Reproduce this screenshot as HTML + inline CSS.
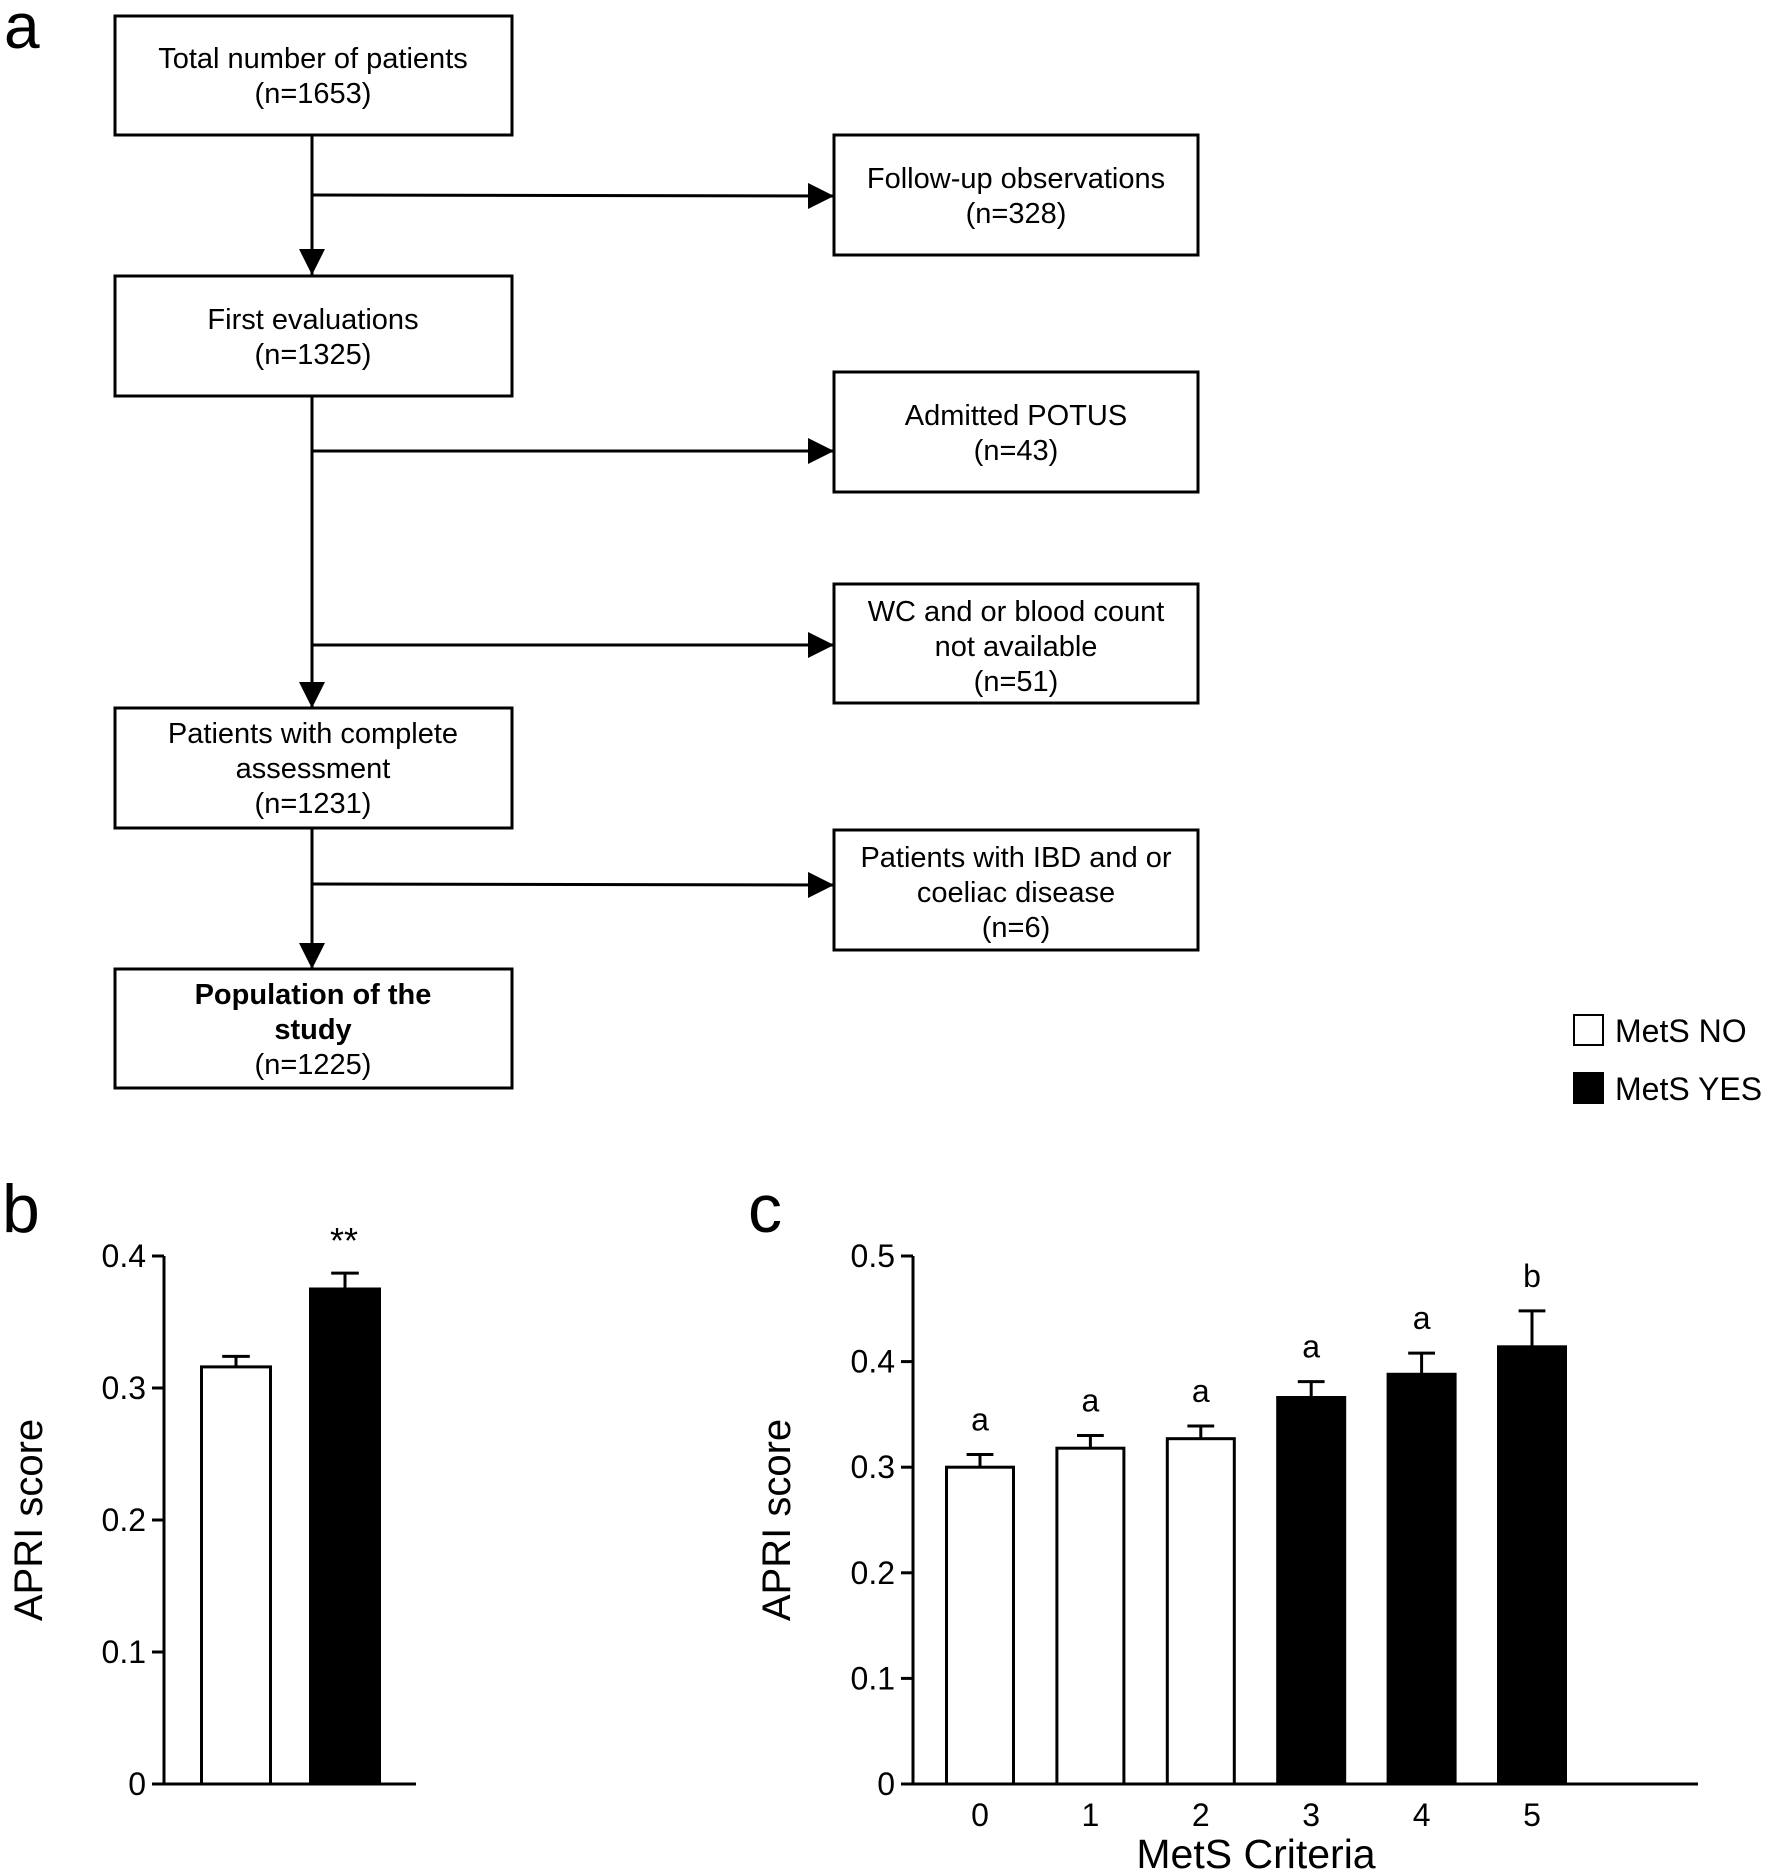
<!DOCTYPE html>
<html><head><meta charset="utf-8"><style>
html,body{margin:0;padding:0;background:#fff}
svg{display:block;font-family:"Liberation Sans",Arial,sans-serif}
</style></head><body>
<svg id="fig" width="1770" height="1872" viewBox="0 0 1770 1872" xmlns="http://www.w3.org/2000/svg">
<defs>
<marker id="ahb" markerWidth="26" markerHeight="26" refX="26" refY="13" orient="auto" markerUnits="userSpaceOnUse" viewBox="0 0 26 26"><path d="M0,0 L26,13 L0,26 z" fill="#000"/></marker></defs>
<text x="4" y="48" font-size="64">a</text>
<g id="flow" stroke="#000" stroke-width="3" fill="none">
<line x1="312" y1="135" x2="312" y2="275" marker-end="url(#ahb)"/>
<line x1="312" y1="195" x2="834" y2="196" marker-end="url(#ahb)"/>
<line x1="312" y1="396" x2="312" y2="708" marker-end="url(#ahb)"/>
<line x1="312" y1="451" x2="834" y2="451" marker-end="url(#ahb)"/>
<line x1="312" y1="645" x2="834" y2="645" marker-end="url(#ahb)"/>
<line x1="312" y1="828" x2="312" y2="969" marker-end="url(#ahb)"/>
<line x1="312" y1="884" x2="834" y2="885" marker-end="url(#ahb)"/>
<rect x="115" y="16" width="397" height="119"/>
<rect x="834" y="135" width="364" height="120"/>
<rect x="115" y="276" width="397" height="120"/>
<rect x="834" y="372" width="364" height="120"/>
<rect x="834" y="584" width="364" height="119"/>
<rect x="115" y="708" width="397" height="120"/>
<rect x="834" y="830" width="364" height="120"/>
<rect x="115" y="969" width="397" height="119"/>
</g>
<g font-size="29" text-anchor="middle" fill="#000">
<text x="313" y="68">Total number of patients</text><text x="313" y="103">(n=1653)</text>
<text x="1016" y="188">Follow-up observations</text><text x="1016" y="223">(n=328)</text>
<text x="313" y="329">First evaluations</text><text x="313" y="364">(n=1325)</text>
<text x="1016" y="425">Admitted POTUS</text><text x="1016" y="460">(n=43)</text>
<text x="1016" y="621">WC and or blood count</text><text x="1016" y="656">not available</text><text x="1016" y="691">(n=51)</text>
<text x="313" y="743">Patients with complete</text><text x="313" y="778">assessment</text><text x="313" y="813">(n=1231)</text>
<text x="1016" y="867">Patients with IBD and or</text><text x="1016" y="902">coeliac disease</text><text x="1016" y="937">(n=6)</text>
<text x="313" y="1004" font-weight="bold">Population of the</text><text x="313" y="1039" font-weight="bold">study</text><text x="313" y="1074">(n=1225)</text>
</g>
<g>
<rect x="1574" y="1015" width="29" height="30" fill="#fff" stroke="#000" stroke-width="2"/>
<text x="1615" y="1042" font-size="32">MetS NO</text>
<rect x="1574" y="1073" width="29" height="30" fill="#000" stroke="#000" stroke-width="2"/>
<text x="1615" y="1100" font-size="32">MetS YES</text>
</g>
<text x="2" y="1232" font-size="68">b</text>
<text x="748" y="1232" font-size="68">c</text>
<g id="chartB"></g>
<g id="chartC"></g>
</svg>
<script>
const bCategories = ["MetS NO", "MetS YES"];
const bValues = [0.316, 0.375];
const bErrTop = [0.324, 0.387];
const bFills = ["#fff", "#000"];
const bTicks = [0, 0.1, 0.2, 0.3, 0.4];
const bTickLabels = ["0", "0.1", "0.2", "0.3", "0.4"];
const cCategories = ["0", "1", "2", "3", "4", "5"];
const cValues = [0.300, 0.318, 0.327, 0.366, 0.388, 0.414];
const cErrTop = [0.312, 0.330, 0.339, 0.381, 0.408, 0.448];
const cLetters = ["a", "a", "a", "a", "a", "b"];
const cTicks = [0, 0.1, 0.2, 0.3, 0.4, 0.5];
const cTickLabels = ["0", "0.1", "0.2", "0.3", "0.4", "0.5"];
const NS = "http://www.w3.org/2000/svg";
function mk(p, tag, attrs, txt){const e=document.createElementNS(NS,tag);for(const k in attrs)e.setAttribute(k,attrs[k]);if(txt!==undefined)e.textContent=txt;p.appendChild(e);return e;}
function drawChart(g, cfg){
  const y = v => cfg.y0 - (v - 0)/(cfg.ymax) * (cfg.y0 - cfg.ytop);
  const ax = mk(g,'line',{x1:cfg.ax,y1:cfg.ytop,x2:cfg.ax,y2:cfg.y0,stroke:'#000','stroke-width':3});
  
  
  const xx = mk(g,'line',{x1:cfg.ax-12,y1:cfg.y0,x2:cfg.xend,y2:cfg.y0,stroke:'#000','stroke-width':3});
  
  
  cfg.ticks.forEach((t,i)=>{
    const l = mk(g,'line',{x1:cfg.ax-12,y1:y(t),x2:cfg.ax,y2:y(t),stroke:'#000','stroke-width':3});
    
    
    const tx = mk(g,'text',{x:cfg.ax-18,y:y(t)+11,'font-size':32,'text-anchor':'end'},cfg.tickLabels[i]);
    
    
  });
  cfg.values.forEach((v,i)=>{
    const cx = cfg.cx(i), w = cfg.bw;
    const e = mk(g,'path',{d:`M${cx} ${y(v)} V${y(cfg.err[i])} M${cx-w*0.2} ${y(cfg.err[i])} H${cx+w*0.2}`,stroke:'#000','stroke-width':3,fill:'none'});
    
    
    const r = mk(g,'rect',{x:cx-w/2,y:y(v),width:w,height:cfg.y0-y(v),fill:cfg.fills[i],stroke:'#000','stroke-width':3});
    
    
    if(cfg.letters){
      const lt = mk(g,'text',{x:cx,y:y(cfg.err[i])-24,'font-size':32,'text-anchor':'middle'},cfg.letters[i]);
      
      
    }
    if(cfg.xlabels){
      const xl = mk(g,'text',{x:cx,y:cfg.y0+42,'font-size':32,'text-anchor':'middle'},cfg.cats[i]);
      
      
    }
  });
  const yt = mk(g,'text',{x:0,y:0,'font-size':40,'text-anchor':'middle',transform:`translate(${cfg.ytx},${(cfg.ytop+cfg.y0)/2}) rotate(-90)`},'APRI score');
  
  
  return y;
}
const gb = document.getElementById('chartB');
const yb = drawChart(gb,{ax:164,ytop:1256,y0:1784,ymax:0.4,xend:416,ticks:bTicks,tickLabels:bTickLabels,values:bValues,err:bErrTop,fills:bFills,cats:bCategories,bw:69,cx:i=>236+i*109,ytx:42});
const st = mk(gb,'text',{x:344,y:yb(bErrTop[1])-20,'font-size':36,'text-anchor':'middle'},'**');


const gc = document.getElementById('chartC');
drawChart(gc,{ax:913,ytop:1256,y0:1784,ymax:0.5,xend:1698,ticks:cTicks,tickLabels:cTickLabels,values:cValues,err:cErrTop,fills:cValues.map((v,i)=>i<3?'#fff':'#000'),cats:cCategories,letters:cLetters,xlabels:true,bw:67,cx:i=>980+i*110.4,ytx:790});
const xt = mk(gc,'text',{x:1256,y:1868,'font-size':41,'text-anchor':'middle'},'MetS Criteria');


</script>
</body></html>
